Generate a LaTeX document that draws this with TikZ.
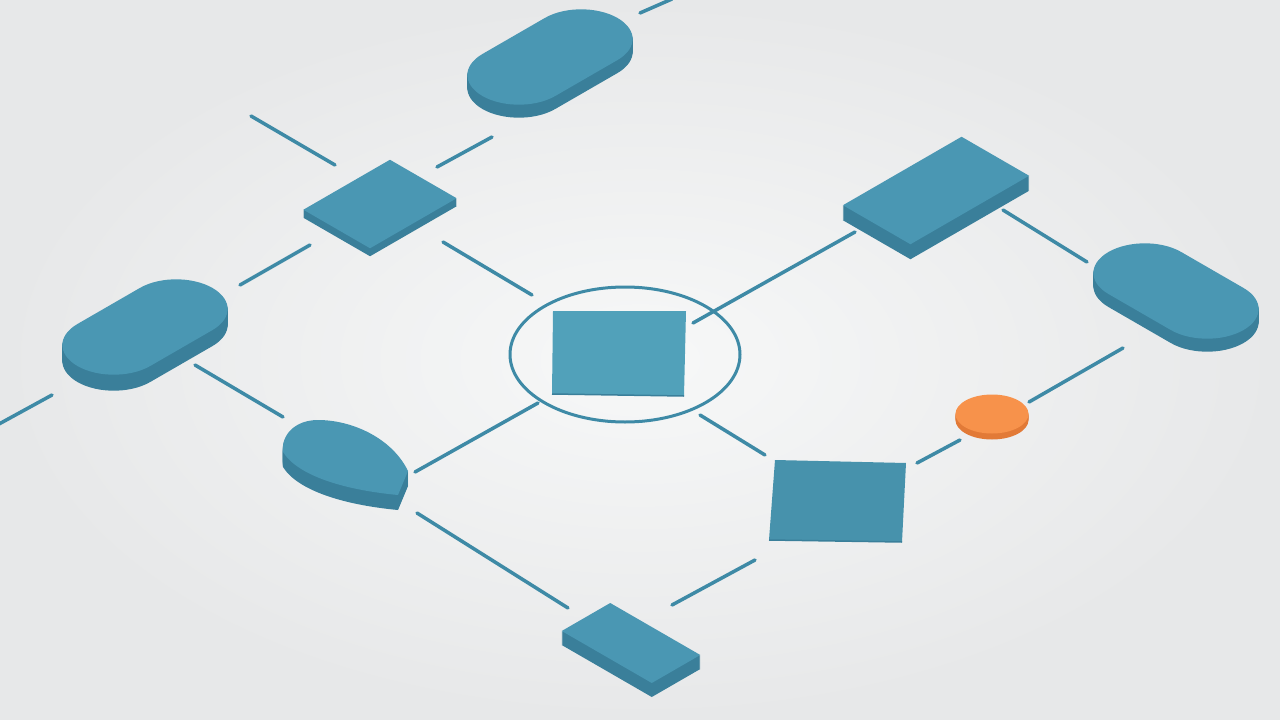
\documentclass[tikz,border=0pt]{standalone}

\definecolor{flowtop}{HTML}{4A97B3}
\definecolor{flowside}{HTML}{3A7F9A}
\definecolor{flowline}{HTML}{3E8AA6}
\definecolor{hubfill}{HTML}{51A1BA}
\definecolor{squarefill}{HTML}{4792AC}
\definecolor{dottop}{HTML}{F7924B}
\definecolor{dotside}{HTML}{E27A37}
\definecolor{bgmid}{HTML}{F7F8F8}
\definecolor{bgedge}{HTML}{E7E8E9}

\tikzset{
  link/.style={draw=flowline, line width=3.5pt, line cap=round},
  iso/.style={x={(0.866pt,0.5pt)}, y={(0.866pt,-0.5pt)}},
  isov/.style={x={(0.866pt,-0.5pt)}, y={(0.866pt,0.5pt)}},
  stadium/.style={insert path={plot[domain=-90:90,samples=31] ({36+42*cos(\x)},{42*sin(\x)})
      -- plot[domain=90:270,samples=31] ({-36+42*cos(\x)},{42*sin(\x)}) -- cycle}},
  slab/.style 2 args={insert path={(-#1/2,-#2/2) -- (#1/2,-#2/2) -- (#1/2,#2/2) -- (-#1/2,#2/2) -- cycle}},
  lens/.style={insert path={(408,471) .. controls (392,438) and (352,420) .. (318,420)
      .. controls (295,420) and (281,435) .. (283,452)
      .. controls (298,476) and (345,490) .. (398,495) -- cycle}}
}

% pill: centre x, centre y, axis style, depth
\newcommand{\pillat}[4]{%
  \foreach \d in {#4,...,1}
    \fill[flowside, shift={(#1,#2+\d)}, #3, stadium];
  \fill[flowtop, shift={(#1,#2)}, #3, stadium];}

% flat box: centre x, centre y, length, width, depth
\newcommand{\slabat}[5]{%
  \foreach \d in {#5,...,1}
    \fill[flowside, shift={(#1,#2+\d)}, iso, slab={#3}{#4}];
  \fill[flowtop, shift={(#1,#2)}, iso, slab={#3}{#4}];}

\begin{document}
\begin{tikzpicture}[x=1pt, y=-1pt]
        \fill[inner color=bgmid, outer color=bgedge] (0,0) rectangle (1280,720);
        \useasboundingbox (0,0) rectangle (1280,720);

        % ring and hub
        \draw[flowline, line width=3pt] (625,354.5) ellipse [x radius=115pt, y radius=67.5pt];
        \fill[hubfill] (553,311) -- (686,311) -- (684,396) -- (552,394) -- cycle;
        \draw[flowside, line width=1.5pt] (552,394) -- (684,396);

        % connector ends
        \coordinate (loose-nw) at (251,116);
        \coordinate (boxUp-nw) at (335,165);
        \coordinate (boxUp-ne) at (437,167);
        \coordinate (pillTop-sw) at (492,137);
        \coordinate (pillTop-ne) at (640,13);
        \coordinate (loose-n) at (672,-1);
        \coordinate (pillLeft-ne) at (240,285);
        \coordinate (boxUp-sw) at (310,245);
        \coordinate (boxUp-se) at (443,242);
        \coordinate (hub-nw) at (532,295);
        \coordinate (loose-w) at (-1,424);
        \coordinate (pillLeft-sw) at (52,395);
        \coordinate (pillLeft-se) at (195,365);
        \coordinate (lens-nw) at (283,417);
        \coordinate (lens-ne) at (415,472);
        \coordinate (hub-sw) at (538,403);
        \coordinate (lens-se) at (417,513);
        \coordinate (boxLow-nw) at (568,608);
        \coordinate (hub-ne) at (693,323);
        \coordinate (boxRight-sw) at (855,232);
        \coordinate (boxRight-se) at (1003,210);
        \coordinate (pillRight-nw) at (1087,262);
        \coordinate (pillRight-sw) at (1123,348);
        \coordinate (dot-ne) at (1029,402);
        \coordinate (dot-sw) at (960,440);
        \coordinate (square-ne) at (917,463);
        \coordinate (hub-se) at (700,415);
        \coordinate (square-nw) at (765,455);
        \coordinate (square-sw) at (755,560);
        \coordinate (boxLow-ne) at (672,605);

        \draw[link] (loose-nw) -- (boxUp-nw);
        \draw[link] (boxUp-ne) -- (pillTop-sw);
        \draw[link] (pillTop-ne) -- (loose-n);
        \draw[link] (pillLeft-ne) -- (boxUp-sw);
        \draw[link] (boxUp-se) -- (hub-nw);
        \draw[link] (loose-w) -- (pillLeft-sw);
        \draw[link] (pillLeft-se) -- (lens-nw);
        \draw[link] (lens-ne) -- (hub-sw);
        \draw[link] (lens-se) -- (boxLow-nw);
        \draw[link] (hub-ne) -- (boxRight-sw);
        \draw[link] (boxRight-se) -- (pillRight-nw);
        \draw[link] (pillRight-sw) -- (dot-ne);
        \draw[link] (dot-sw) -- (square-ne);
        \draw[link] (hub-se) -- (square-nw);
        \draw[link] (square-sw) -- (boxLow-ne);

        % shapes
        \pillat{550}{57}{iso}{13}
        \pillat{145}{327}{iso}{16}
        \pillat{1176}{291}{isov}{13}
        \slabat{380}{204}{100}{77}{8}
        \slabat{936}{190.5}{137}{78}{15}
        \slabat{631}{643}{56}{104}{14}
        \foreach \d in {15,...,1}
          \fill[flowside, shift={(0,\d)}, lens];
        \fill[flowtop, lens];
        \fill[squarefill] (775,460) -- (906,463) -- (902,542) -- (769,540) -- cycle;
        \draw[flowside, line width=1.5pt] (769,540) -- (902,542);
        \foreach \d in {6,...,1}
          \fill[dotside] (992,414+\d) ellipse [x radius=36.5pt, y radius=19.5pt];
        \fill[dottop] (992,414) ellipse [x radius=36.5pt, y radius=19.5pt];
      \end{tikzpicture}
\end{document}
